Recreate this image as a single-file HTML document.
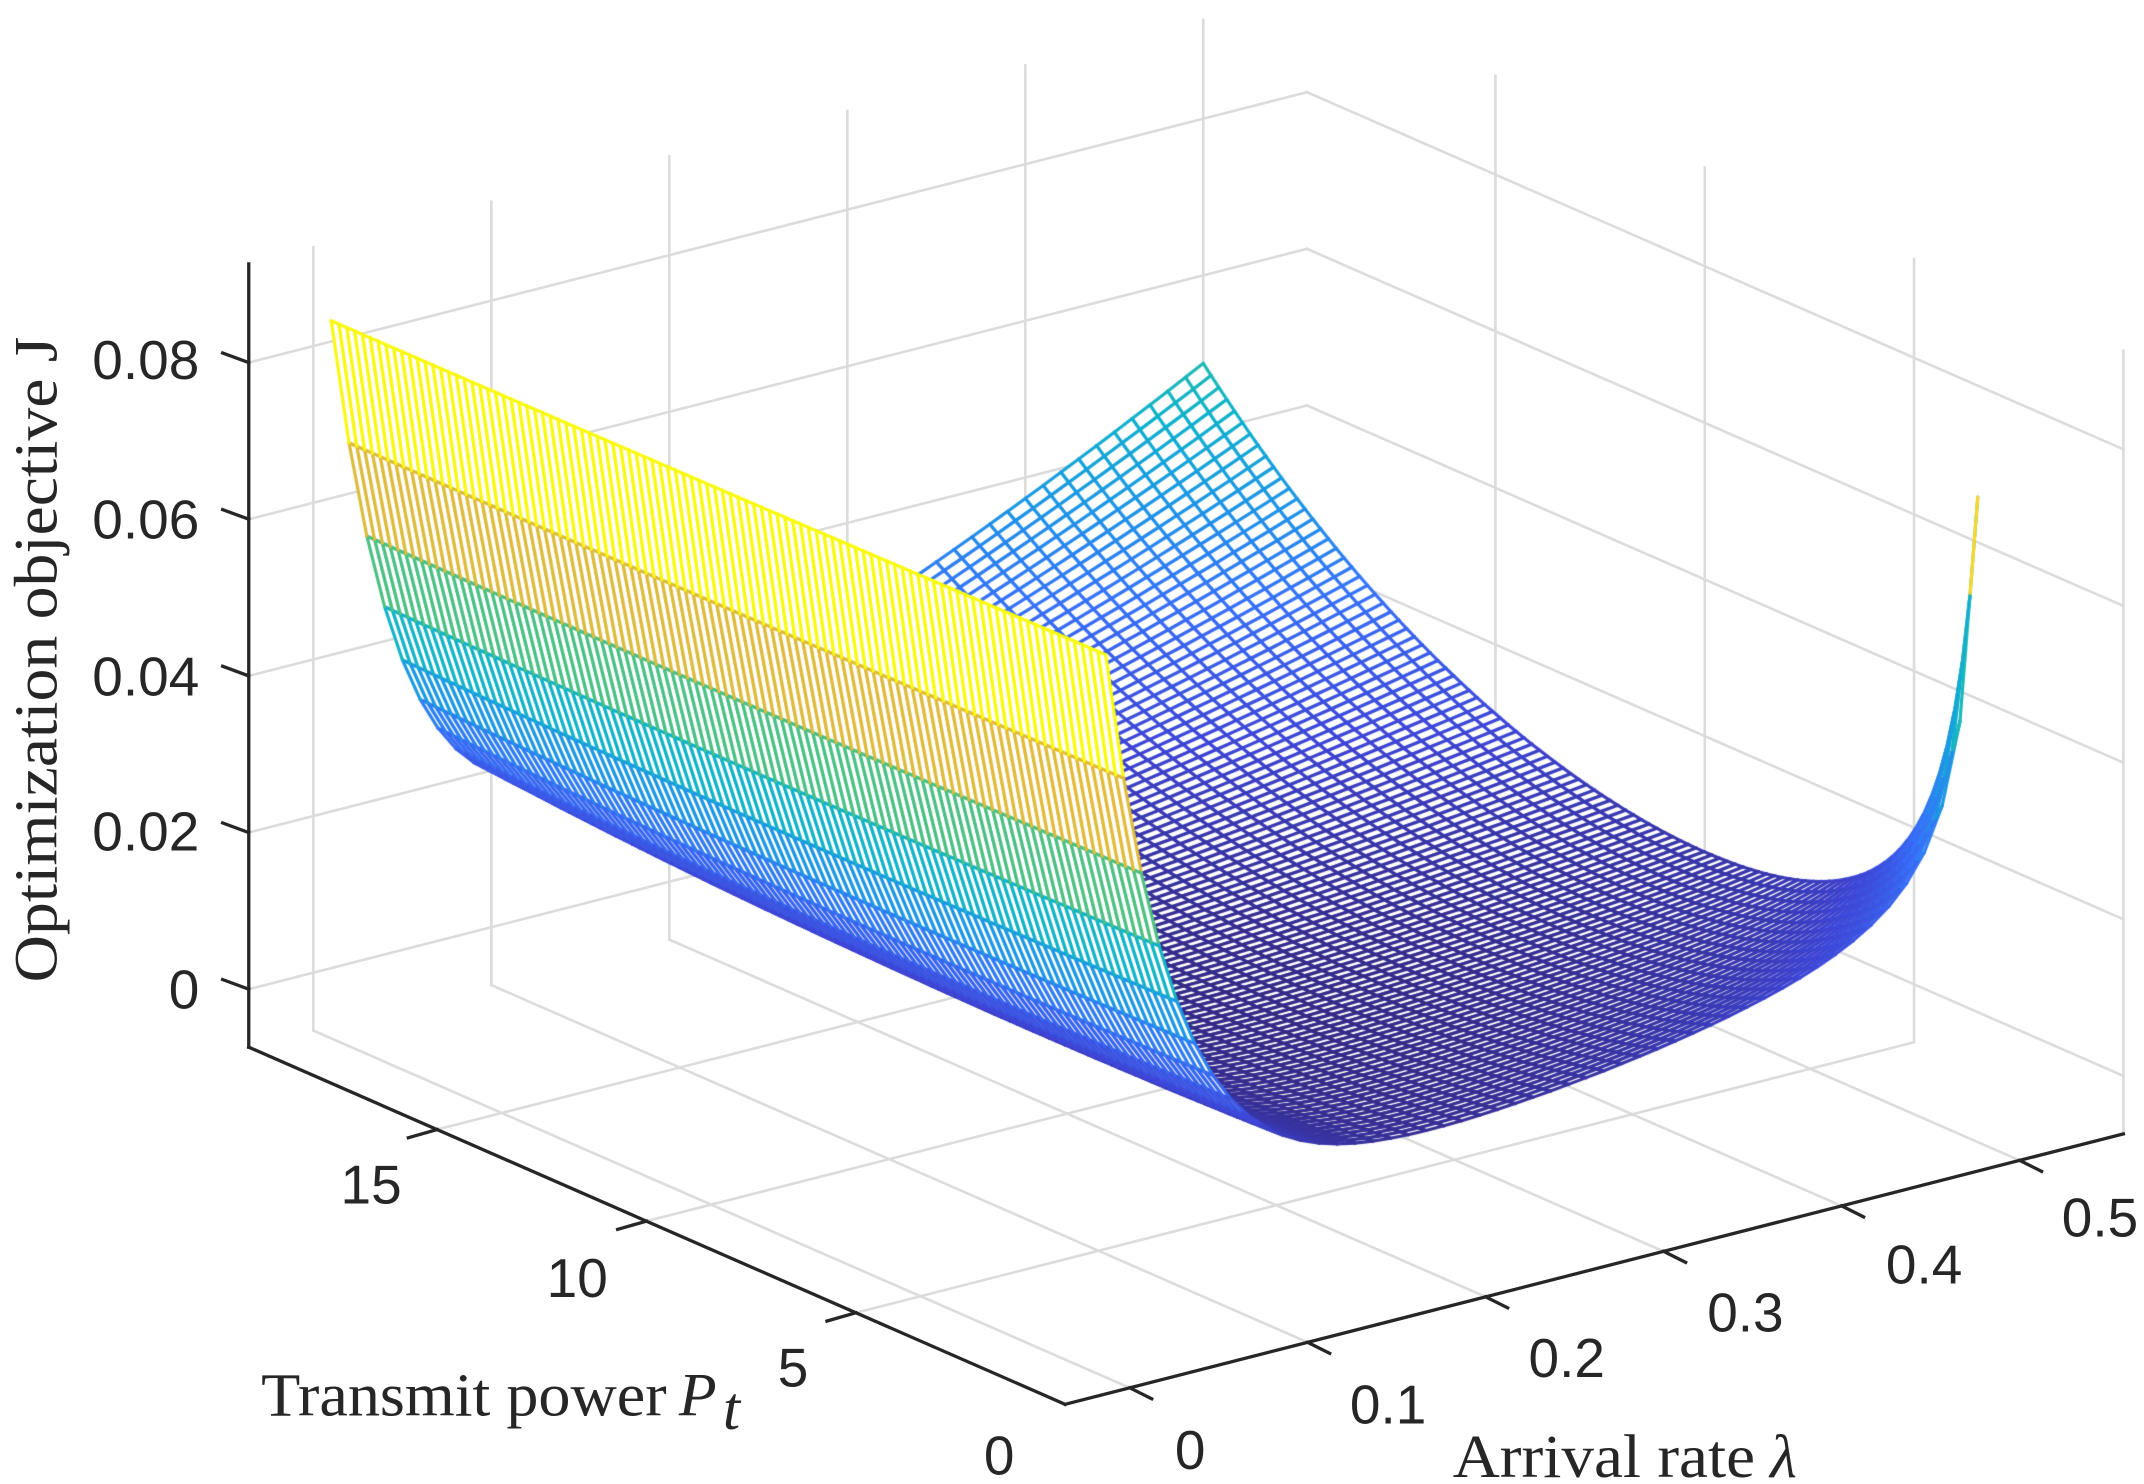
<!DOCTYPE html>
<html><head><meta charset="utf-8">
<style>
html,body{margin:0;padding:0;background:#fff;}
#wrap{position:relative;width:2144px;height:1484px;overflow:hidden;background:#fff;}
#wrap svg,#wrap canvas{position:absolute;left:0;top:0;width:2144px;height:1484px;}
.tk{font-family:"Liberation Sans",Arial,sans-serif;font-size:40px;fill:#262626;}
.lb{font-family:"Liberation Serif","Times New Roman",serif;font-size:45px;fill:#262626;}
</style></head>
<body>
<div id="wrap">
<svg id="g1" viewBox="0 0 1560 1080" preserveAspectRatio="none"></svg>
<canvas id="cv" width="2144" height="1484"></canvas>
<svg id="g2" viewBox="0 0 1560 1080" preserveAspectRatio="none">
<g id="axes"></g>
<g class="tk" text-anchor="end">
<text x="145" y="276">0.08</text>
<text x="145" y="392">0.06</text>
<text x="145" y="506">0.04</text>
<text x="145" y="619">0.02</text>
<text x="145" y="734">0</text>
</g>
<g class="tk" text-anchor="middle">
<text x="270" y="876">15</text>
<text x="420" y="944">10</text>
<text x="577" y="1009">5</text>
<text x="727" y="1073">0</text>
<text x="866" y="1069">0</text>
<text x="1010" y="1036">0.1</text>
<text x="1140" y="1002">0.2</text>
<text x="1270" y="969">0.3</text>
<text x="1400" y="934">0.4</text>
<text x="1528" y="900">0.5</text>
</g>
<text class="lb" transform="translate(41,715) rotate(-90)" textLength="470" lengthAdjust="spacingAndGlyphs">Optimization objective J</text>
<text class="lb" x="190" y="1030" textLength="295" lengthAdjust="spacingAndGlyphs">Transmit power</text>
<text class="lb" x="494" y="1030" font-style="italic">P</text>
<text class="lb" x="526" y="1040" font-style="italic" font-size="32">t</text>
<text class="lb" x="1057" y="1075" textLength="220" lengthAdjust="spacingAndGlyphs">Arrival rate</text>
<text class="lb" x="1288" y="1075" font-style="italic">λ</text>
</svg>
</div>
<script>
(function(){
var LM=-0.0363, LX=0.5583, PX=19.5, ZM=-0.0074, ZX=0.0926;
function pr(l,p,z){var u=l-LM;return [775+1295*u-30.46*p, 1022-331*u-13.33*p-5700*(z-ZM)];}
function ln(a,b,col,w){return '<line x1="'+a[0].toFixed(1)+'" y1="'+a[1].toFixed(1)+'" x2="'+b[0].toFixed(1)+'" y2="'+b[1].toFixed(1)+'" stroke="'+col+'" stroke-width="'+w+'" stroke-linecap="square"/>';}
var s='', gc='#dcdcdc', gw=1.9;
var lt=[0,0.1,0.2,0.3,0.4,0.5], pt=[0,5,10,15], zt=[0,0.02,0.04,0.06,0.08];
lt.forEach(function(l){ s+=ln(pr(l,PX,ZM),pr(l,PX,ZX),gc,gw); s+=ln(pr(l,0,ZM),pr(l,PX,ZM),gc,gw);});
pt.forEach(function(p){ s+=ln(pr(LX,p,ZM),pr(LX,p,ZX),gc,gw); s+=ln(pr(LM,p,ZM),pr(LX,p,ZM),gc,gw);});
zt.forEach(function(z){ s+=ln(pr(LM,PX,z),pr(LX,PX,z),gc,gw); s+=ln(pr(LX,PX,z),pr(LX,0,z),gc,gw);});
document.getElementById('g1').innerHTML=s;
var a='', ac='#262626', aw=2.4;
a+=ln(pr(LM,PX,ZM),pr(LM,PX,ZX),ac,aw);
a+=ln(pr(LM,0,ZM),pr(LM,PX,ZM),ac,aw);
a+=ln(pr(LM,0,ZM),pr(LX,0,ZM),ac,aw);
zt.forEach(function(z){var q=pr(LM,PX,z);a+=ln(q,[q[0]-19,q[1]-7],ac,aw);});
pt.forEach(function(p){if(p==0)return;var q=pr(LM,p,ZM);a+=ln(q,[q[0]-21,q[1]+6],ac,aw);});
lt.forEach(function(l){var q=pr(l,0,ZM);a+=ln(q,[q[0]+16,q[1]+8],ac,aw);});
document.getElementById('axes').innerHTML=a;

function J(l,p){var mu=0.5+0.011*Math.pow(p,1.4);
 return 0.008+0.074*Math.exp(-(l-0.01)/0.04)+1.52e-5*p*p*p*Math.pow(l,1.5)+0.00064/(mu-l)+0.035*l*l*Math.exp(-(p-1)/2.5);}
var NL=50,NP=100,L=[],P=[],Z=[],mn=1e9,mx=-1e9;
for(var i=0;i<NL;i++)L.push(0.01*(i+1));
for(var j=0;j<NP;j++)P.push(1+18.5*j/(NP-1));
for(i=0;i<NL;i++){Z.push([]);for(j=0;j<NP;j++){var v=J(L[i],P[j]);Z[i].push(v);if(v<mn)mn=v;if(v>mx)mx=v;}}
var st=[[0,53,42,135],[0.12,62,70,215],[0.25,55,115,250],[0.35,30,150,230],[0.45,15,178,205],[0.55,40,190,165],[0.65,115,195,95],[0.72,175,190,65],[0.80,250,185,55],[0.90,250,220,40],[1,249,251,14]];
function col(v){var t=(v-mn)/(mx-mn);if(t<0)t=0;if(t>1)t=1;
 for(var k=1;k<st.length;k++){if(t<=st[k][0]){var a0=st[k-1],a1=st[k],f=(t-a0[0])/(a1[0]-a0[0]);
 return 'rgb('+Math.round(a0[1]+f*(a1[1]-a0[1]))+','+Math.round(a0[2]+f*(a1[2]-a0[2]))+','+Math.round(a0[3]+f*(a1[3]-a0[3]))+')';}}
 return 'rgb(249,251,14)';}
var S=[],C=[];
for(i=0;i<NL;i++){S.push([]);C.push([]);for(j=0;j<NP;j++){S[i].push(pr(L[i],P[j],Z[i][j]));C[i].push(col(Z[i][j]));}}
var Q=[];
for(i=0;i<NL-1;i++)for(j=0;j<NP-1;j++){var lc=(L[i]+L[i+1])/2-LM,pc=(P[j]+P[j+1])/2;Q.push([594*lc/0.5946+770*pc/19.5,i,j]);}
Q.sort(function(x,y){return y[0]-x[0];});
var cv=document.getElementById('cv'),ctx=cv.getContext('2d');
ctx.setTransform(2144/1560,0,0,1484/1080,0,0);
ctx.lineWidth=2.3;ctx.lineJoin='round';ctx.lineCap='round';
function seg(p,q,c){ctx.strokeStyle=c;ctx.beginPath();ctx.moveTo(p[0],p[1]);ctx.lineTo(q[0],q[1]);ctx.stroke();}
Q.forEach(function(q){var i=q[1],j=q[2];
 var a=S[i][j],b=S[i+1][j],c=S[i+1][j+1],d=S[i][j+1];
 ctx.fillStyle='#fff';ctx.beginPath();ctx.moveTo(a[0],a[1]);ctx.lineTo(b[0],b[1]);ctx.lineTo(c[0],c[1]);ctx.lineTo(d[0],d[1]);ctx.closePath();ctx.fill();
 seg(a,b,C[i][j]);seg(a,d,C[i][j]);seg(b,c,C[i+1][j]);seg(d,c,C[i][j+1]);
});
})();
</script>
</body></html>
